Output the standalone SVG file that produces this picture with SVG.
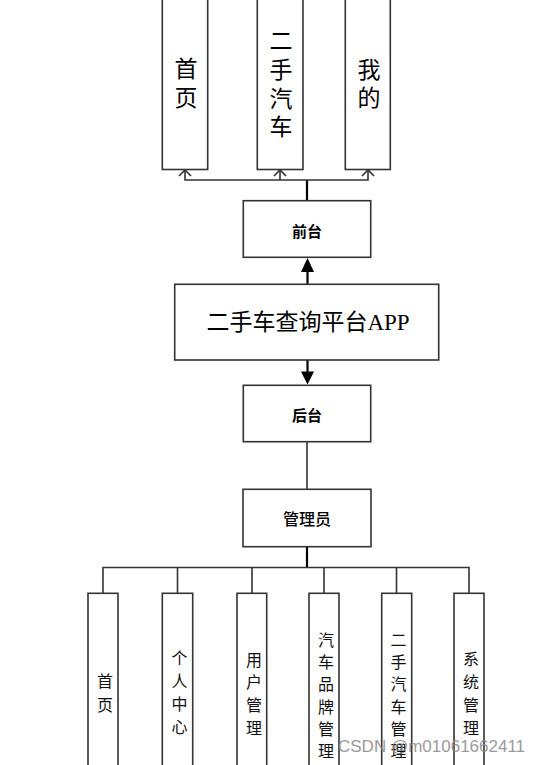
<svg xmlns="http://www.w3.org/2000/svg" width="541" height="765" viewBox="0 0 541 765">
<style>
.box{fill:#ffffff;stroke:#333;stroke-width:1.6}
.ln{fill:none;stroke:#333;stroke-width:1.6}
.thk{fill:none;stroke:#000;stroke-width:2.2}
.ser{font-family:"Liberation Serif","Noto Sans CJK SC",serif;font-size:23px;fill:#000;text-anchor:middle;dominant-baseline:central}
.bold{font-family:"Noto Sans CJK SC",sans-serif;font-size:15px;font-weight:bold;fill:#000;text-anchor:middle;dominant-baseline:central}
.sm{font-family:"Noto Sans CJK SC",sans-serif;font-size:16px;fill:#111;text-anchor:middle;dominant-baseline:central}
.wm{font-family:"Liberation Sans","Noto Sans",sans-serif;font-size:17px;fill:#8a8a8a;opacity:0.85}
</style>
<rect width="541" height="765" fill="#ffffff"/>
<g id="connectors">
  <line class="thk" x1="307" y1="200.7" x2="307" y2="180"/>
  <polyline class="ln" points="185,169.5 185,180 368,180 368,169.5"/>
  <line class="ln" x1="280" y1="169.5" x2="280" y2="180"/>
  <polyline class="ln" points="179,176 185,170 191,176"/>
  <polyline class="ln" points="274,176 280,170 286,176"/>
  <polyline class="ln" points="362,176 368,170 374,176"/>
  <line class="thk" x1="307.5" y1="284" x2="307.5" y2="270"/>
  <polygon points="307.5,258 301,272 314,272" fill="#000"/>
  <line class="thk" x1="307.5" y1="360" x2="307.5" y2="372"/>
  <polygon points="307.5,384.5 301,371.5 314,371.5" fill="#000"/>
  <line class="ln" x1="307" y1="442" x2="307" y2="489"/>
  <line class="thk" x1="307" y1="547" x2="307" y2="567.5"/>
  <polyline class="ln" points="103,593.5 103,567.5 469,567.5 469,593.5"/>
  <line class="ln" x1="177.5" y1="567.5" x2="177.5" y2="593.5"/>
  <line class="ln" x1="252" y1="567.5" x2="252" y2="593.5"/>
  <line class="ln" x1="324" y1="567.5" x2="324" y2="593.5"/>
  <line class="ln" x1="396.5" y1="567.5" x2="396.5" y2="593.5"/>
</g>
<g id="n-home-top">
  <rect class="box" x="162.3" y="-5" width="45.4" height="174.5"/>
  <text class="ser" x="186" y="69.5">首</text>
  <text class="ser" x="186" y="98.5">页</text>
</g>
<g id="n-usedcar-top">
  <rect class="box" x="257.3" y="-5" width="45.7" height="174.5"/>
  <text class="ser" x="281" y="41">二</text>
  <text class="ser" x="281" y="70">手</text>
  <text class="ser" x="281" y="99">汽</text>
  <text class="ser" x="281" y="127">车</text>
</g>
<g id="n-mine-top">
  <rect class="box" x="345.3" y="-5" width="45" height="174.5"/>
  <text class="ser" x="369" y="70">我</text>
  <text class="ser" x="369" y="98.5">的</text>
</g>
<g id="n-front">
  <rect class="box" x="243.3" y="200.7" width="127.4" height="56.6"/>
  <text class="bold" x="307" y="230.5">前台</text>
</g>
<g id="n-app">
  <rect class="box" x="174.7" y="284.3" width="264" height="75.7"/>
  <text class="ser" x="308" y="322">二手车查询平台APP</text>
</g>
<g id="n-back">
  <rect class="box" x="243.3" y="385.3" width="127.4" height="56.4"/>
  <text class="bold" x="307" y="414">后台</text>
</g>
<g id="n-admin">
  <rect class="box" x="243" y="489.3" width="128" height="57.4"/>
  <text class="bold" x="307" y="518.3" style="font-size:16px;font-weight:500">管理员</text>
</g>
<g id="n-home">
  <rect class="box" x="88" y="593.3" width="30" height="180"/>
  <text class="sm" x="105" y="680">首</text>
  <text class="sm" x="105" y="704">页</text>
</g>
<g id="n-personal">
  <rect class="box" x="162.3" y="593.3" width="30.4" height="180"/>
  <text class="sm" x="179.5" y="657">个</text>
  <text class="sm" x="179.5" y="680">人</text>
  <text class="sm" x="179.5" y="702.5">中</text>
  <text class="sm" x="179.5" y="725.5">心</text>
</g>
<g id="n-user">
  <rect class="box" x="237" y="593.3" width="29.7" height="180"/>
  <text class="sm" x="254" y="658.5">用</text>
  <text class="sm" x="254" y="681">户</text>
  <text class="sm" x="254" y="704">管</text>
  <text class="sm" x="254" y="727">理</text>
</g>
<g id="n-brand">
  <rect class="box" x="309" y="593.3" width="30" height="180"/>
  <text class="sm" x="326" y="638.5">汽</text>
  <text class="sm" x="326" y="661">车</text>
  <text class="sm" x="326" y="683">品</text>
  <text class="sm" x="326" y="705.5">牌</text>
  <text class="sm" x="326" y="728">管</text>
  <text class="sm" x="326" y="750">理</text>
</g>
<g id="n-usedcar">
  <rect class="box" x="381.7" y="593.3" width="30" height="180"/>
  <text class="sm" x="398.5" y="638.5">二</text>
  <text class="sm" x="398.5" y="661">手</text>
  <text class="sm" x="398.5" y="683">汽</text>
  <text class="sm" x="398.5" y="705.5">车</text>
  <text class="sm" x="398.5" y="728">管</text>
  <text class="sm" x="398.5" y="750">理</text>
</g>
<g id="n-system">
  <rect class="box" x="454" y="593.3" width="30" height="180"/>
  <text class="sm" x="471" y="658">系</text>
  <text class="sm" x="471" y="680.5">统</text>
  <text class="sm" x="471" y="703.5">管</text>
  <text class="sm" x="471" y="726.5">理</text>
</g>
<g id="watermark">
  <text class="wm" x="338" y="752">CSDN @m01061662411</text>
</g>
</svg>
